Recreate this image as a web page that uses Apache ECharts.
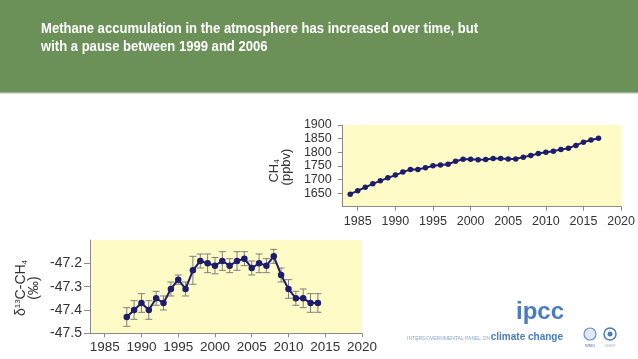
<!DOCTYPE html>
<html><head><meta charset="utf-8">
<script src="https://cdn.jsdelivr.net/npm/echarts@6/dist/echarts.min.js"></script>
<style>html,body{margin:0;padding:0;background:#fff}#c{width:638px;height:359px}</style>
</head><body><div id="c"></div>
<script>
const titleLines = ['Methane accumulation in the atmosphere has increased over time, but', 'with a pause between 1999 and 2006'];
const xTicks = [1985, 1990, 1995, 2000, 2005, 2010, 2015, 2020];
const ch4Years = [1984,1985,1986,1987,1988,1989,1990,1991,1992,1993,1994,1995,1996,1997,1998,1999,2000,2001,2002,2003,2004,2005,2006,2007,2008,2009,2010,2011,2012,2013,2014,2015,2016,2017];
const ch4Values = [1646,1659,1671,1684,1695,1706,1716,1727,1737,1737,1743,1750,1753,1756,1767,1774,1774,1772,1773,1777,1777,1775,1775,1782,1788,1795,1800,1804,1810,1815,1825,1837,1845,1851];
const ch4Ticks = [1650, 1700, 1750, 1800, 1850, 1900];
const d13Years = [1988,1989,1990,1991,1992,1993,1994,1995,1996,1997,1998,1999,2000,2001,2002,2003,2004,2005,2006,2007,2008,2009,2010,2011,2012,2013,2014];
const d13Values = [-47.43,-47.40,-47.37,-47.40,-47.35,-47.37,-47.31,-47.27,-47.31,-47.23,-47.19,-47.20,-47.21,-47.19,-47.21,-47.19,-47.18,-47.22,-47.20,-47.21,-47.17,-47.25,-47.31,-47.35,-47.35,-47.37,-47.37];
const d13Errors = [0.04,0.04,0.04,0.04,0.03,0.03,0.03,0.02,0.03,0.06,0.03,0.04,0.035,0.04,0.03,0.04,0.03,0.03,0.04,0.03,0.03,0.03,0.04,0.03,0.04,0.04,0.04];
const d13Ticks = [-47.5, -47.4, -47.3, -47.2];

const chart = echarts.init(document.getElementById('c'));
const navy = '#1d1d6e';
const axisGray = '#8a8a8a';
const lblFont = 'Liberation Sans';
const titleFont = 'bold 15.5px "Liberation Sans", Arial, sans-serif';

// horizontal squeeze so the title mimics the condensed face of the reference
const mctx = document.createElement('canvas').getContext('2d');
mctx.font = titleFont;
const titleScale = 437 / mctx.measureText(titleLines[0]).width;

function xAxisCfg(gridIndex, fontSize, margin) {
  return {
    type: 'value', gridIndex, min: 1983, max: 2020,
    axisLine: {show: true, lineStyle: {color: axisGray, width: 1}},
    axisTick: {show: true, length: 4, lineStyle: {color: axisGray}, customValues: xTicks},
    axisLabel: {customValues: xTicks, fontFamily: lblFont, fontSize, color: '#333', margin, formatter: v => String(v)},
    splitLine: {show: false}
  };
}

const ch4Data = ch4Years.map((y, i) => [y, ch4Values[i]]);
const d13Data = d13Years.map((y, i) => [y, d13Values[i]]);
const errData = d13Years.map((y, i) => [y, d13Values[i] - d13Errors[i], d13Values[i] + d13Errors[i]]);

chart.setOption({
  animation: false,
  backgroundColor: '#ffffff',
  grid: [
    {left: 342.7, top: 125, width: 280, height: 81.7, show: true, backgroundColor: '#fefbc6', borderWidth: 0},
    {left: 90, top: 240, width: 272, height: 93.3, show: true, backgroundColor: '#fefbc6', borderWidth: 0}
  ],
  xAxis: [xAxisCfg(0, 12.5, 8), xAxisCfg(1, 13.5, 7)],
  yAxis: [
    {type: 'value', gridIndex: 0, min: 1600, max: 1900, interval: 50,
     axisLine: {show: true, lineStyle: {color: axisGray}},
     axisTick: {show: true, length: 5, lineStyle: {color: axisGray}, customValues: ch4Ticks},
     axisLabel: {customValues: ch4Ticks, fontFamily: lblFont, fontSize: 12.5, color: '#333', margin: 11, formatter: v => String(v)},
     splitLine: {show: false}},
    {type: 'value', gridIndex: 1, min: -47.5, max: -47.1, interval: 0.1,
     axisLine: {show: true, lineStyle: {color: axisGray}},
     axisTick: {show: true, length: 6, lineStyle: {color: axisGray}, customValues: d13Ticks},
     axisLabel: {customValues: d13Ticks, fontFamily: lblFont, fontSize: 14, color: '#333', margin: 8,
       formatter: v => v.toFixed(1)},
     splitLine: {show: false}}
  ],
  series: [
    {type: 'line', xAxisIndex: 0, yAxisIndex: 0, data: ch4Data, symbol: 'circle', symbolSize: 5.5,
     lineStyle: {color: navy, width: 2}, itemStyle: {color: navy}},
    {type: 'custom', xAxisIndex: 1, yAxisIndex: 1, data: errData, z: 1,
     renderItem: function (params, api) {
       const x = api.value(0);
       const lo = api.coord([x, api.value(1)]);
       const hi = api.coord([x, api.value(2)]);
       const w = 3.5;
       const st = {stroke: '#7f7f7f', lineWidth: 1};
       return {type: 'group', children: [
         {type: 'line', shape: {x1: lo[0], y1: lo[1], x2: hi[0], y2: hi[1]}, style: st},
         {type: 'line', shape: {x1: lo[0] - w, y1: lo[1], x2: lo[0] + w, y2: lo[1]}, style: st},
         {type: 'line', shape: {x1: hi[0] - w, y1: hi[1], x2: hi[0] + w, y2: hi[1]}, style: st}
       ]};
     }},
    {type: 'line', xAxisIndex: 1, yAxisIndex: 1, data: d13Data, symbol: 'circle', symbolSize: 6.5, z: 3,
     lineStyle: {color: navy, width: 2}, itemStyle: {color: navy}}
  ],
  graphic: [
    {type: 'rect', shape: {x: 0, y: 0, width: 638, height: 92}, style: {fill: '#6b9158'}, z: -10},
    {type: 'rect', shape: {x: 0, y: 92, width: 638, height: 1.5}, style: {fill: '#a7b59e'}, z: -10},
    {type: 'text', x: 41, y: 29, scaleX: titleScale, style: {text: titleLines[0], fill: '#ffffff', font: titleFont, verticalAlign: 'middle'}},
    {type: 'text', x: 41, y: 46.5, scaleX: titleScale, style: {text: titleLines[1], fill: '#ffffff', font: titleFont, verticalAlign: 'middle'}},
    {type: 'text', x: 274, y: 171, rotation: Math.PI / 2,
     style: {text: '{a|CH}{b|4}', align: 'center', verticalAlign: 'middle', fill: '#333',
       rich: {a: {fontFamily: lblFont, fontSize: 13, fill: '#333'}, b: {fontFamily: lblFont, fontSize: 8, fill: '#333', verticalAlign: 'bottom', padding: [6, 0, 0, 0]}}}},
    {type: 'text', x: 286, y: 167, rotation: Math.PI / 2,
     style: {text: '(ppbv)', align: 'center', verticalAlign: 'middle', fill: '#333', font: '13px "Liberation Sans"'}},
    {type: 'text', x: 21, y: 288, rotation: Math.PI / 2,
     style: {text: '{a|δ}{c|13}{a|C-CH}{b|4}', align: 'center', verticalAlign: 'middle', fill: '#333',
       rich: {a: {fontFamily: lblFont, fontSize: 14, fill: '#333'},
              b: {fontFamily: lblFont, fontSize: 8, fill: '#333', verticalAlign: 'bottom', padding: [7, 0, 0, 0]},
              c: {fontFamily: lblFont, fontSize: 8, fill: '#333', verticalAlign: 'top', padding: [0, 0, 7, 0]}}}},
    {type: 'text', x: 34, y: 288, rotation: Math.PI / 2,
     style: {text: '(‰)', align: 'center', verticalAlign: 'middle', fill: '#333', font: '14px "Liberation Sans"'}},
    {type: 'text', x: 564, y: 324, style: {text: 'ipcc', align: 'right', verticalAlign: 'bottom', fill: '#4a7cc0', font: 'bold 24px "Liberation Sans"'}},
    {type: 'text', x: 490, y: 339, style: {text: 'INTERGOVERNMENTAL PANEL ON', align: 'right', verticalAlign: 'middle', fill: '#8ca8cc', font: '5px "Liberation Sans"'}},
    {type: 'text', x: 563, y: 337, style: {text: 'climate change', align: 'right', verticalAlign: 'middle', fill: '#4a7cc0', font: 'bold 10px "Liberation Sans"'}},
    {type: 'circle', shape: {cx: 590, cy: 334, r: 6}, style: {fill: '#dfe8f3', stroke: '#6d93c6', lineWidth: 1.2}},
    {type: 'circle', shape: {cx: 610, cy: 334, r: 6}, style: {fill: '#ffffff', stroke: '#4a7cc0', lineWidth: 1.5}},
    {type: 'circle', shape: {cx: 610, cy: 334, r: 2.5}, style: {fill: '#4a7cc0'}},
    {type: 'text', x: 590, y: 346, style: {text: 'WMO', align: 'center', verticalAlign: 'middle', fill: '#7f9cc6', font: 'bold 4px "Liberation Sans"'}},
    {type: 'text', x: 610, y: 346, style: {text: 'UNEP', align: 'center', verticalAlign: 'middle', fill: '#9fb6d6', font: '4px "Liberation Sans"'}}
  ]
});
</script>
</body></html>
